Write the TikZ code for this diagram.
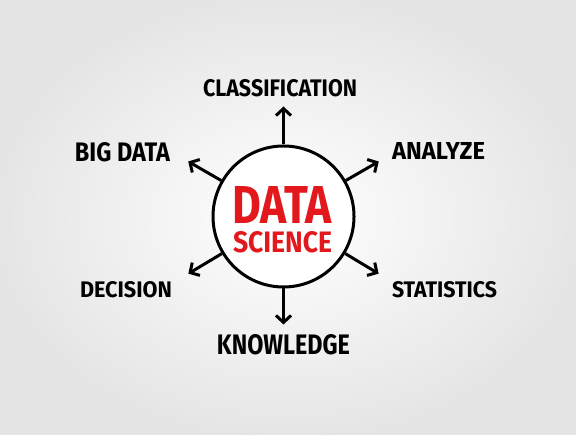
\documentclass[tikz,border=0pt]{standalone}
\usepackage{fontspec}
\setmainfont{Fira Sans}
\usetikzlibrary{calc,arrows.meta}
\definecolor{dsred}{RGB}{226,24,28}
\newcommand{\hand}[3]{\resizebox{#1bp}{#2bp}{\bfseries #3}}

\begin{document}
\begin{tikzpicture}[x=1bp,y=1bp]
        \useasboundingbox (0,0) rectangle (576,435);
        \shade[inner color=white,outer color=black!10] (0,0) rectangle (576,435);
        % the circle in the middle
        \node[circle,draw,line width=3bp,fill=white,minimum size=141bp,inner sep=0pt] (ds) at (283.5,218.5) {};
        \node[dsred,inner sep=0pt] (data) at (282,230) {\hand{100}{37}{DATA}};
        \node[dsred,inner sep=0pt] (science) at (282.5,193) {\hand{99}{21}{SCIENCE}};
        % the words round it
        \node[inner sep=0pt] (classif) at (280,346.5) {\hand{154}{17}{CLASSIFICATION}};
        \node[inner sep=0pt] (bigdata) at (122.5,282.5) {\hand{95}{19}{BIG DATA}};
        \node[inner sep=0pt] (analyze) at (438.5,283.5) {\hand{93}{17}{ANALYZE}};
        \node[inner sep=0pt] (decision) at (126,145) {\hand{92}{16}{DECISION}};
        \node[inner sep=0pt] (stats) at (444.5,145) {\hand{105}{16}{STATISTICS}};
        \node[inner sep=0pt] (knowl) at (283.5,90) {\hand{133}{20}{KNOWLEDGE}};
        % arrow tips
        \coordinate (tclassif) at ($(ds.center)+(90:110)$);
        \coordinate (tbigdata) at ($(ds.center)+(150:110)$);
        \coordinate (tanalyze) at ($(ds.center)+(30:110)$);
        \coordinate (tdecision) at ($(ds.center)+(211:111)$);
        \coordinate (tstats) at ($(ds.center)+(329:111)$);
        \coordinate (tknowl) at ($(ds.center)+(270:108)$);
        \draw[line width=3bp,-{Straight Barb[length=7bp,width=15bp]}] (ds.90) -- (tclassif);
        \draw[line width=3bp,-{Straight Barb[length=7bp,width=15bp]}] (ds.150) -- (tbigdata);
        \draw[line width=3bp,-{Straight Barb[length=7bp,width=15bp]}] (ds.30) -- (tanalyze);
        \draw[line width=3bp,-{Straight Barb[length=7bp,width=15bp]}] (ds.211) -- (tdecision);
        \draw[line width=3bp,-{Straight Barb[length=7bp,width=15bp]}] (ds.329) -- (tstats);
        \draw[line width=3bp,-{Straight Barb[length=7bp,width=15bp]}] (ds.270) -- (tknowl);
\end{tikzpicture}
\end{document}
